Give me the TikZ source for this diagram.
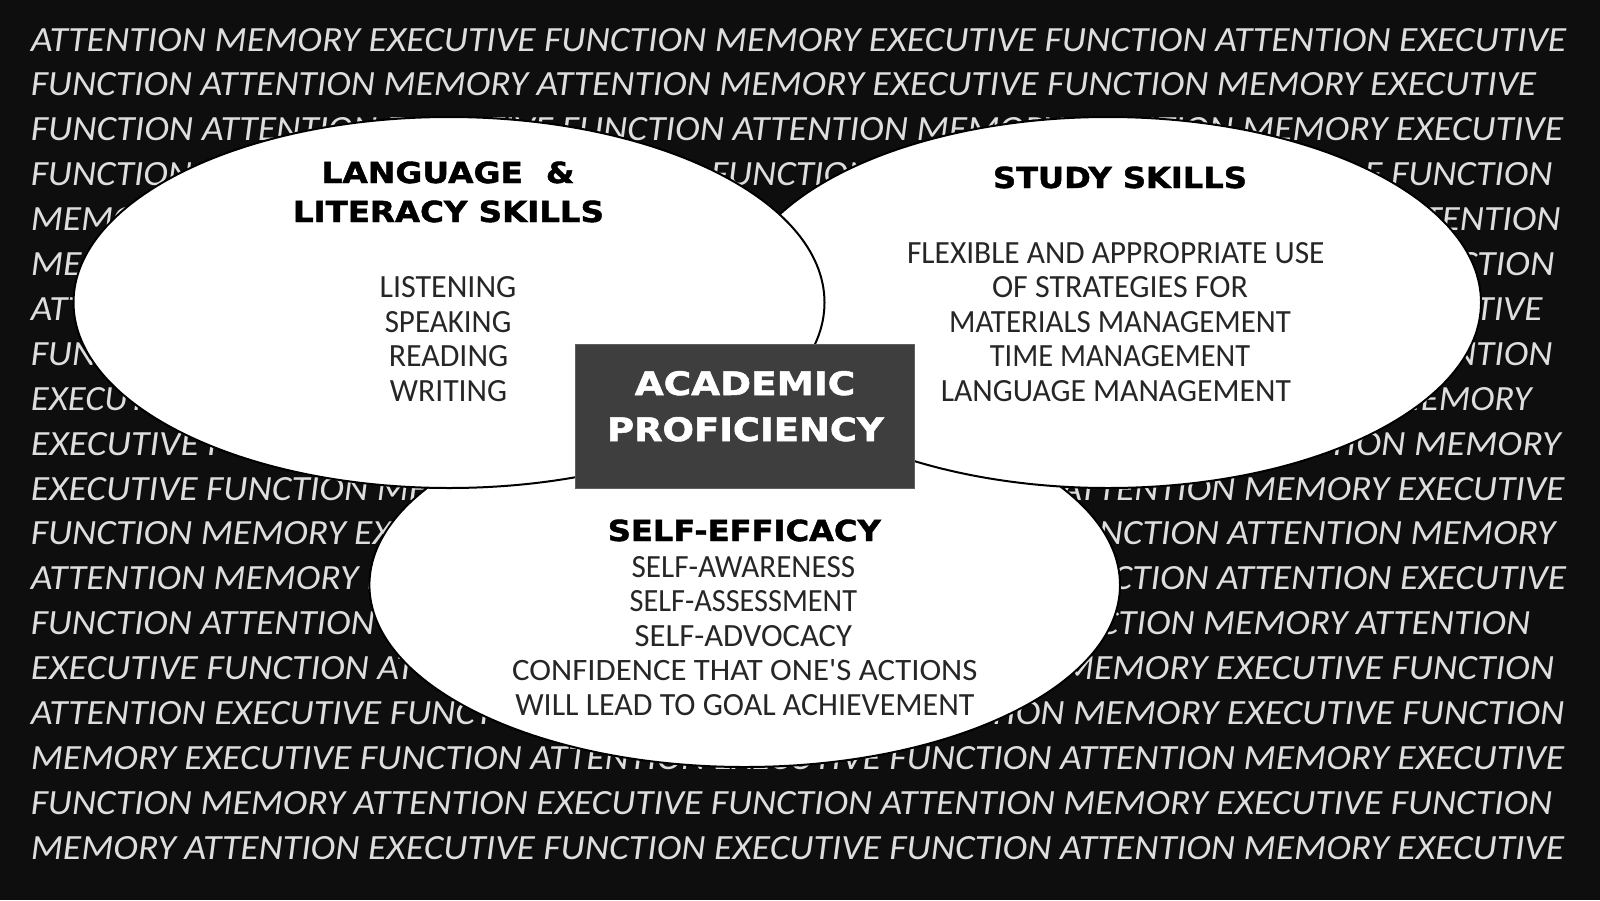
\documentclass[tikz,border=0pt]{standalone}
\usepackage{fontspec}
\usepackage{graphicx}
\usetikzlibrary{shapes.geometric}
\newfontfamily\bgfont{Carlito}
\newfontfamily\headfont{DejaVu Sans}[BoldFeatures={FakeBold=1.5}]
\newfontfamily\bodyfont{Carlito}
\newcommand\fitto[3]{\resizebox{#1pt}{#2pt}{#3}}
\newcommand\hid[1]{\phantom{#1}}
\definecolor{bgcol}{RGB}{14,14,14}
\definecolor{bgtext}{RGB}{222,222,222}
\definecolor{boxfill}{RGB}{62,62,62}
\definecolor{boxline}{RGB}{95,95,95}
\definecolor{bodytext}{RGB}{38,38,38}
\tikzset{
  bgrow/.style={anchor=base west, inner sep=0pt, text=bgtext, font=\bgfont\itshape},
  bubble/.style={ellipse, draw=black, fill=white, line width=2pt, inner sep=0pt},
  hd/.style={anchor=base, inner sep=0pt, text=black, font=\headfont\bfseries},
  bd/.style={anchor=base, inner sep=0pt, text=bodytext, font=\bodyfont},
  centerbox/.style={rectangle, fill=boxfill, draw=boxline, line width=1pt, inner sep=0pt},
  ct/.style={anchor=base, inner sep=0pt, text=white, font=\headfont\bfseries}
}
\begin{document}
\begin{tikzpicture}[x=1pt,y=-1pt]
\useasboundingbox (0,0) rectangle (1600,900);
\fill[bgcol] (0,0) rectangle (1600,900);
% background rows of words (words hidden behind the ellipses are phantoms)
\foreach \i/\txt/\xr in {
 1/{ATTENTION MEMORY EXECUTIVE FUNCTION MEMORY EXECUTIVE FUNCTION ATTENTION EXECUTIVE}/1566,
 2/{FUNCTION ATTENTION MEMORY ATTENTION MEMORY EXECUTIVE FUNCTION MEMORY EXECUTIVE}/1536,
 3/{FUNCTION ATTENTION EXECUTIVE FUNCTION ATTENTION MEMORY FUNCTION MEMORY EXECUTIVE}/1563,
 4/{FUNCTION \hid{ATTENTION} \hid{MEMORY} \hid{EXECUTIVE} FUNCTION \hid{ATTENTION} \hid{MEMORY} \hid{EXECUTIV}E FUNCTION}/1552,
 5/{MEMORY \hid{EXECUTIVE} \hid{FUNCTION} \hid{ATTENTION} \hid{EXECUTIVE} \hid{MEMORY} \hid{FUNCTION} \hid{EXECUTIVE} ATTENTION}/1560,
 6/{MEMORY \hid{ATTENTION} \hid{EXECUTIVE} \hid{FUNCTION} \hid{MEMORY} \hid{EXECUTIVE} \hid{ATTENTION} \hid{MEMORY} FUNCTION}/1554,
 7/{ATTENTION \hid{FUNCTION} \hid{MEMORY} \hid{EXECUTIVE} \hid{ATTENTION} \hid{FUNCTION} \hid{MEMORY} \hid{FUNCTION} EXECUTIVE}/1542,
 8/{FUNCTION \hid{MEMORY} \hid{EXECUTIVE} \hid{ATTENTION} \hid{FUNCTION} \hid{EXECUTIVE} \hid{MEMORY} \hid{FUNCTION} ATTENTION}/1552,
 9/{EXECUTIVE \hid{ATTENTION} \hid{FUNCTION} \hid{MEMORY} \hid{EXECUTIVE} \hid{FUNCTION} \hid{ATTENTION} \hid{EXECUTIVE} MEMORY}/1531,
 10/{EXECUTIVE FUNCTION \hid{MEMORY} \hid{ATTENTION} \hid{EXECUTIVE} \hid{MEMORY} \hid{EXECUTIVE} ATTENTION MEMORY}/1560,
 11/{EXECUTIVE FUNCTION MEMORY \hid{ATTENTION} \hid{EXECUTIVE} \hid{FUNCTION} ATTENTION MEMORY EXECUTIVE}/1564,
 12/{FUNCTION MEMORY EXECUTIVE \hid{ATTENTION} \hid{FUNCTION} \hid{EXECUTIVE} FUNCTION ATTENTION MEMORY}/1555,
 13/{ATTENTION MEMORY EXECUTIVE \hid{MEMORY} \hid{FUNCTION} \hid{ATTENTION} FUNCTION ATTENTION EXECUTIVE}/1566,
 14/{FUNCTION ATTENTION \hid{MEMORY} \hid{EXECUTIVE} \hid{FUNCTION} \hid{MEMORY} FUNCTION MEMORY ATTENTION}/1530,
 15/{EXECUTIVE FUNCTION AT\hid{TENTION} \hid{MEMORY} \hid{EXECUTIVE} \hid{FUNCTION} MEMORY EXECUTIVE FUNCTION}/1554,
 16/{ATTENTION EXECUTIVE FUNCT\hid{ION} \hid{MEMORY} \hid{EXECUTIVE} \hid{ATTEN}TION MEMORY EXECUTIVE FUNCTION}/1564,
 17/{MEMORY EXECUTIVE FUNCTION ATTENTION EXECUTIVE FUNCTION ATTENTION MEMORY EXECUTIVE}/1564,
 18/{FUNCTION MEMORY ATTENTION EXECUTIVE FUNCTION ATTENTION MEMORY EXECUTIVE FUNCTION}/1552,
 19/{MEMORY ATTENTION EXECUTIVE FUNCTION EXECUTIVE FUNCTION ATTENTION MEMORY EXECUTIVE}/1564}{
  \pgfmathsetmacro\w{\xr-30.6}
  \node[bgrow] (row\i) at (30.6,{51+44.9*(\i-1)}) {\fitto{\w}{23}{\txt}};
}
% ellipses (bottom first, then right, then left)
\node[bubble, minimum width=750.6pt, minimum height=364pt] (selfeff) at (744.7,585) {};
\node[bubble, minimum width=746pt, minimum height=371pt] (study) at (1108,302.5) {};
\node[bubble, minimum width=751pt, minimum height=371pt] (lang) at (449,302.5) {};
% centre box
\node[centerbox, minimum width=339pt, minimum height=143.5pt] (acad) at (744.5,416.25) {};
\node[ct] (acad1) at (745,395) {\fitto{220.4}{24}{ACADEMIC}};
\node[ct] (acad2) at (745.4,441) {\fitto{276.6}{24}{PROFICIENCY}};
% language & literacy
\node[hd] (lang1) at (448,183) {\fitto{253}{21.5}{LANGUAGE\ \ \&}};
\node[hd] (lang2) at (448.5,222) {\fitto{311}{21.5}{LITERACY SKILLS}};
\node[bd] (lang3) at (448,297.5) {\fitto{136.7}{21}{LISTENING}};
\node[bd] (lang4) at (448,332) {\fitto{126.5}{21}{SPEAKING}};
\node[bd] (lang5) at (448.5,366.5) {\fitto{119.4}{21}{READING}};
\node[bd] (lang6) at (448.5,401) {\fitto{117.3}{21}{WRITING}};
% study skills
\node[hd] (study1) at (1120,188) {\fitto{254}{21.5}{STUDY SKILLS}};
\node[bd] (study2) at (1115.8,263.3) {\fitto{417.4}{21}{FLEXIBLE AND APPROPRIATE USE}};
\node[bd] (study3) at (1120,297.5) {\fitto{256}{21}{OF STRATEGIES FOR}};
\node[bd] (study4) at (1120,332) {\fitto{341.8}{21}{MATERIALS MANAGEMENT}};
\node[bd] (study5) at (1120,366.5) {\fitto{260.2}{21}{TIME MANAGEMENT}};
\node[bd] (study6) at (1115.8,401) {\fitto{350}{21}{LANGUAGE MANAGEMENT}};
% self-efficacy
\node[hd] (self1) at (744.3,541) {\fitto{273}{21.5}{SELF-EFFICACY}};
\node[bd] (self2) at (743.4,577) {\fitto{223.5}{21}{SELF-AWARENESS}};
\node[bd] (self3) at (743.4,611.5) {\fitto{227.5}{21}{SELF-ASSESSMENT}};
\node[bd] (self4) at (743.4,646) {\fitto{217.3}{21}{SELF-ADVOCACY}};
\node[bd] (self5) at (744.9,680.5) {\fitto{465.3}{21}{CONFIDENCE THAT ONE'S ACTIONS}};
\node[bd] (self6) at (744.9,715) {\fitto{459.2}{21}{WILL LEAD TO GOAL ACHIEVEMENT}};
\end{tikzpicture}
\end{document}
